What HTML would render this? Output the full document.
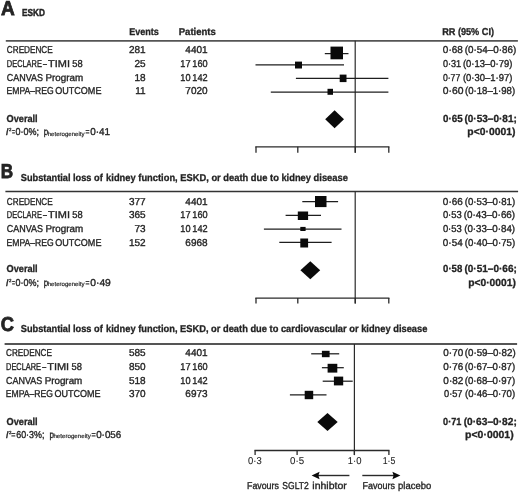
<!DOCTYPE html>
<html><head><meta charset="utf-8"><title>Forest plot</title>
<style>
html,body{margin:0;padding:0;background:#fff;width:520px;height:494px;overflow:hidden}
svg{display:block}
text{text-rendering:geometricPrecision;font-family:"Liberation Sans",Arial,sans-serif;fill:#242424;stroke:#242424;stroke-width:0.35px}
text[font-weight=bold]{stroke-width:0.3px}
text.big{stroke-width:0.8px}
text.hb{stroke-width:0.45px}
text.sub{stroke-width:0.18px}
text.sub2{stroke-width:0.3px}
text.lt{stroke-width:0.1px}
</style></head><body>
<svg width="520" height="494" viewBox="0 0 520 494">
<rect width="520" height="494" fill="#fff"/>
<text x="22.0" y="15.6" font-size="10.2" font-weight="bold" textLength="22.99" lengthAdjust="spacingAndGlyphs" class="hb">ESKD</text>
<text x="129.15" y="34.7" font-size="10" font-weight="bold" textLength="29.66" lengthAdjust="spacingAndGlyphs">Events</text>
<text x="178.72" y="34.7" font-size="10" font-weight="bold" textLength="37.11" lengthAdjust="spacingAndGlyphs">Patients</text>
<text x="442.15" y="34.7" font-size="10" font-weight="bold" textLength="51.86" lengthAdjust="spacingAndGlyphs">RR (95% CI)</text>
<text x="0.9" y="15.0" font-size="20.2" font-weight="bold" textLength="13.8" lengthAdjust="spacingAndGlyphs" class="big">A</text>
<line x1="5.8" y1="40.8" x2="517.9" y2="40.8" stroke="#555" stroke-width="1.8"/>
<text x="6.84" y="53.1" font-size="10" textLength="45.85" lengthAdjust="spacingAndGlyphs">CREDENCE</text>
<text x="145.6" y="53.1" font-size="10" text-anchor="end">281</text>
<text x="207.6" y="53.1" font-size="10" text-anchor="end">4401</text>
<text x="442.86" y="53.1" font-size="10" textLength="19.92" lengthAdjust="spacingAndGlyphs">0·68</text>
<text x="464.74" y="53.1" font-size="10" textLength="51.52" lengthAdjust="spacingAndGlyphs">(0·54–0·86)</text>
<text x="6.84" y="67.0" font-size="10" textLength="35.02" lengthAdjust="spacingAndGlyphs">DECLARE</text>
<text x="43.05" y="67.0" font-size="10" textLength="3.9" lengthAdjust="spacingAndGlyphs">–</text>
<text x="48.01" y="67.0" font-size="10" textLength="21.95" lengthAdjust="spacingAndGlyphs">TIMI</text>
<text x="72.28" y="67.0" font-size="10" textLength="10.38" lengthAdjust="spacingAndGlyphs">58</text>
<text x="145.6" y="67.0" font-size="10" text-anchor="end">25</text>
<text x="180.3" y="67.0" font-size="10" textLength="27.3" lengthAdjust="spacingAndGlyphs">17 160</text>
<text x="442.9" y="67.0" font-size="10" textLength="18.2" lengthAdjust="spacingAndGlyphs">0·31</text>
<text x="462.96" y="67.0" font-size="10" textLength="49.37" lengthAdjust="spacingAndGlyphs">(0·13–0·79)</text>
<text x="6.8" y="80.7" font-size="10" textLength="36.15" lengthAdjust="spacingAndGlyphs">CANVAS</text>
<text x="45.45" y="80.7" font-size="10" textLength="37.64" lengthAdjust="spacingAndGlyphs">Program</text>
<text x="145.6" y="80.7" font-size="10" text-anchor="end">18</text>
<text x="180.3" y="80.7" font-size="10" textLength="27.3" lengthAdjust="spacingAndGlyphs">10 142</text>
<text x="442.91" y="80.7" font-size="10" textLength="17.27" lengthAdjust="spacingAndGlyphs">0·77</text>
<text x="462.96" y="80.7" font-size="10" textLength="49.37" lengthAdjust="spacingAndGlyphs">(0·30–1·97)</text>
<text x="6.54" y="94.4" font-size="10" textLength="47.14" lengthAdjust="spacingAndGlyphs">EMPA–REG</text>
<text x="55.23" y="94.4" font-size="10" textLength="46.2" lengthAdjust="spacingAndGlyphs">OUTCOME</text>
<text x="145.6" y="94.4" font-size="10" text-anchor="end">11</text>
<text x="207.6" y="94.4" font-size="10" text-anchor="end">7020</text>
<text x="442.85" y="94.4" font-size="10" textLength="20.7" lengthAdjust="spacingAndGlyphs">0·60</text>
<text x="465.06" y="94.4" font-size="10" textLength="50.09" lengthAdjust="spacingAndGlyphs">(0·18–1·98)</text>
<text x="6.57" y="121.6" font-size="10" font-weight="bold" textLength="31.12" lengthAdjust="spacingAndGlyphs">Overall</text>
<text x="5.7" y="135.3" font-size="10" font-style="italic">I</text>
<text x="8.9" y="131.4" font-size="4.4" class="sub2">2</text>
<text x="11.9" y="135.3" font-size="10" textLength="3.0" lengthAdjust="spacingAndGlyphs">=</text>
<text x="15.6" y="135.3" font-size="10" textLength="23.46" lengthAdjust="spacingAndGlyphs">0·0%;</text>
<text x="43.74" y="135.3" font-size="10" textLength="4.44" lengthAdjust="spacingAndGlyphs">p</text>
<text x="47.73" y="135.6" font-size="6.0" textLength="36.83" lengthAdjust="spacingAndGlyphs" class="sub">heterogeneity</text>
<text x="85.42" y="135.3" font-size="10" textLength="3.96" lengthAdjust="spacingAndGlyphs">=</text>
<text x="90.26" y="135.3" font-size="10" textLength="19.87" lengthAdjust="spacingAndGlyphs">0·41</text>
<text x="443.07" y="121.6" font-size="10.3" font-weight="bold" textLength="19.65" lengthAdjust="spacingAndGlyphs">0·65</text>
<text x="464.46" y="121.6" font-size="10.3" font-weight="bold" textLength="52.34" lengthAdjust="spacingAndGlyphs">(0·53–0·81;</text>
<text x="467.38" y="135.3" font-size="10.3" font-weight="bold" textLength="48.18" lengthAdjust="spacingAndGlyphs">p&lt;0·0001)</text>
<line x1="355.2" y1="40.8" x2="355.2" y2="152.8" stroke="#2a2a2a" stroke-width="1.2"/>
<line x1="255.3" y1="146.8" x2="389.40000000000003" y2="146.8" stroke="#2a2a2a" stroke-width="1.3"/>
<line x1="256" y1="146.8" x2="256" y2="152.8" stroke="#2a2a2a" stroke-width="1.3"/>
<line x1="297.8" y1="146.8" x2="297.8" y2="152.8" stroke="#2a2a2a" stroke-width="1.3"/>
<line x1="355.3" y1="146.8" x2="355.3" y2="152.8" stroke="#2a2a2a" stroke-width="1.3"/>
<line x1="388.8" y1="146.8" x2="388.8" y2="152.8" stroke="#2a2a2a" stroke-width="1.3"/>
<line x1="324.8" y1="53.6" x2="348.5" y2="53.6" stroke="#1e1e1e" stroke-width="1.25"/>
<rect x="330.5" y="46.6" width="12.5" height="12.7" fill="#0a0a0a"/>
<line x1="255.5" y1="64.8" x2="344" y2="64.8" stroke="#1e1e1e" stroke-width="1.25"/>
<rect x="295" y="61.6" width="7" height="6.9" fill="#0a0a0a"/>
<line x1="295.9" y1="78.3" x2="388.4" y2="78.3" stroke="#1e1e1e" stroke-width="1.25"/>
<rect x="339.7" y="74.6" width="6.8" height="7.5" fill="#0a0a0a"/>
<line x1="270.8" y1="92" x2="388.4" y2="92" stroke="#1e1e1e" stroke-width="1.25"/>
<rect x="327.5" y="88.8" width="5.5" height="6.0" fill="#0a0a0a"/>
<polygon points="325.20000000000005,119.2 334.6,110.2 344.0,119.2 334.6,128.2" fill="#0a0a0a"/>
<text x="0.8" y="178.4" font-size="20.2" font-weight="bold" textLength="12.4" lengthAdjust="spacingAndGlyphs" class="big">B</text>
<text x="20.79" y="180.7" font-size="10" font-weight="bold" textLength="81.94" lengthAdjust="spacingAndGlyphs">Substantial loss of</text>
<text x="106.11" y="180.7" font-size="10" font-weight="bold" textLength="241.76" lengthAdjust="spacingAndGlyphs">kidney function, ESKD, or death due to kidney disease</text>
<line x1="5.4" y1="191.5" x2="518.1" y2="191.5" stroke="#333" stroke-width="1.4"/>
<text x="6.84" y="204.7" font-size="10" textLength="45.85" lengthAdjust="spacingAndGlyphs">CREDENCE</text>
<text x="145.6" y="204.7" font-size="10" text-anchor="end">377</text>
<text x="207.6" y="204.7" font-size="10" text-anchor="end">4401</text>
<text x="442.86" y="204.7" font-size="10" textLength="19.92" lengthAdjust="spacingAndGlyphs">0·66</text>
<text x="464.75" y="204.7" font-size="10" textLength="50.4" lengthAdjust="spacingAndGlyphs">(0·53–0·81)</text>
<text x="6.84" y="218.4" font-size="10" textLength="35.02" lengthAdjust="spacingAndGlyphs">DECLARE</text>
<text x="43.05" y="218.4" font-size="10" textLength="3.9" lengthAdjust="spacingAndGlyphs">–</text>
<text x="48.01" y="218.4" font-size="10" textLength="21.95" lengthAdjust="spacingAndGlyphs">TIMI</text>
<text x="72.28" y="218.4" font-size="10" textLength="10.38" lengthAdjust="spacingAndGlyphs">58</text>
<text x="145.6" y="218.4" font-size="10" text-anchor="end">365</text>
<text x="180.3" y="218.4" font-size="10" textLength="27.3" lengthAdjust="spacingAndGlyphs">17 160</text>
<text x="442.88" y="218.4" font-size="10" textLength="18.88" lengthAdjust="spacingAndGlyphs">0·53</text>
<text x="463.64" y="218.4" font-size="10" textLength="51.52" lengthAdjust="spacingAndGlyphs">(0·43–0·66)</text>
<text x="6.8" y="232.1" font-size="10" textLength="36.15" lengthAdjust="spacingAndGlyphs">CANVAS</text>
<text x="45.45" y="232.1" font-size="10" textLength="37.64" lengthAdjust="spacingAndGlyphs">Program</text>
<text x="145.6" y="232.1" font-size="10" text-anchor="end">73</text>
<text x="180.3" y="232.1" font-size="10" textLength="27.3" lengthAdjust="spacingAndGlyphs">10 142</text>
<text x="442.88" y="232.1" font-size="10" textLength="18.88" lengthAdjust="spacingAndGlyphs">0·53</text>
<text x="464.14" y="232.1" font-size="10" textLength="51.01" lengthAdjust="spacingAndGlyphs">(0·33–0·84)</text>
<text x="6.54" y="245.8" font-size="10" textLength="47.14" lengthAdjust="spacingAndGlyphs">EMPA–REG</text>
<text x="55.23" y="245.8" font-size="10" textLength="46.2" lengthAdjust="spacingAndGlyphs">OUTCOME</text>
<text x="145.6" y="245.8" font-size="10" text-anchor="end">152</text>
<text x="207.6" y="245.8" font-size="10" text-anchor="end">6968</text>
<text x="442.86" y="245.8" font-size="10" textLength="19.78" lengthAdjust="spacingAndGlyphs">0·54</text>
<text x="464.75" y="245.8" font-size="10" textLength="50.4" lengthAdjust="spacingAndGlyphs">(0·40–0·75)</text>
<text x="6.57" y="272.3" font-size="10" font-weight="bold" textLength="31.12" lengthAdjust="spacingAndGlyphs">Overall</text>
<text x="5.7" y="285.7" font-size="10" font-style="italic">I</text>
<text x="8.9" y="281.8" font-size="4.4" class="sub2">2</text>
<text x="11.9" y="285.7" font-size="10" textLength="3.0" lengthAdjust="spacingAndGlyphs">=</text>
<text x="15.6" y="285.7" font-size="10" textLength="23.46" lengthAdjust="spacingAndGlyphs">0·0%;</text>
<text x="43.74" y="285.7" font-size="10" textLength="4.44" lengthAdjust="spacingAndGlyphs">p</text>
<text x="47.73" y="286.0" font-size="6.0" textLength="36.83" lengthAdjust="spacingAndGlyphs" class="sub">heterogeneity</text>
<text x="85.42" y="285.7" font-size="10" textLength="3.96" lengthAdjust="spacingAndGlyphs">=</text>
<text x="90.25" y="285.7" font-size="10" textLength="20.59" lengthAdjust="spacingAndGlyphs">0·49</text>
<text x="443.08" y="272.3" font-size="10.3" font-weight="bold" textLength="19.17" lengthAdjust="spacingAndGlyphs">0·58</text>
<text x="464.46" y="272.3" font-size="10.3" font-weight="bold" textLength="52.34" lengthAdjust="spacingAndGlyphs">(0·51–0·66;</text>
<text x="468.18" y="285.8" font-size="10.3" font-weight="bold" textLength="47.67" lengthAdjust="spacingAndGlyphs">p&lt;0·0001)</text>
<line x1="355.2" y1="191.5" x2="355.2" y2="303.6" stroke="#2a2a2a" stroke-width="1.2"/>
<line x1="255.3" y1="298.1" x2="389.40000000000003" y2="298.1" stroke="#2a2a2a" stroke-width="1.3"/>
<line x1="256" y1="298.1" x2="256" y2="303.6" stroke="#2a2a2a" stroke-width="1.3"/>
<line x1="297.8" y1="298.1" x2="297.8" y2="303.6" stroke="#2a2a2a" stroke-width="1.3"/>
<line x1="355.3" y1="298.1" x2="355.3" y2="303.6" stroke="#2a2a2a" stroke-width="1.3"/>
<line x1="388.8" y1="298.1" x2="388.8" y2="303.6" stroke="#2a2a2a" stroke-width="1.3"/>
<line x1="302.3" y1="201.5" x2="338.1" y2="201.5" stroke="#1e1e1e" stroke-width="1.25"/>
<rect x="315" y="196" width="11.5" height="11.1" fill="#0a0a0a"/>
<line x1="285.6" y1="215.4" x2="321" y2="215.4" stroke="#1e1e1e" stroke-width="1.25"/>
<rect x="297.8" y="211.5" width="10.3" height="8.5" fill="#0a0a0a"/>
<line x1="263.9" y1="229" x2="341.5" y2="229" stroke="#1e1e1e" stroke-width="1.25"/>
<rect x="300.3" y="226.9" width="5.3" height="4.1" fill="#0a0a0a"/>
<line x1="279.3" y1="242.3" x2="331.6" y2="242.3" stroke="#1e1e1e" stroke-width="1.25"/>
<rect x="300.3" y="238.5" width="7.8" height="9.0" fill="#0a0a0a"/>
<polygon points="300.40000000000003,270.2 310.3,261.2 320.2,270.2 310.3,279.2" fill="#0a0a0a"/>
<text x="0.7" y="331.3" font-size="20.2" font-weight="bold" textLength="13.3" lengthAdjust="spacingAndGlyphs" class="big">C</text>
<text x="20.79" y="332.3" font-size="10" font-weight="bold" textLength="81.94" lengthAdjust="spacingAndGlyphs">Substantial loss of</text>
<text x="106.11" y="332.3" font-size="10" font-weight="bold" textLength="321.26" lengthAdjust="spacingAndGlyphs">kidney function, ESKD, or death due to cardiovascular or kidney disease</text>
<line x1="4.6" y1="343.95" x2="517.1" y2="343.95" stroke="#555" stroke-width="1.9"/>
<text x="6.04" y="356.2" font-size="10" textLength="45.85" lengthAdjust="spacingAndGlyphs">CREDENCE</text>
<text x="145.6" y="356.2" font-size="10" text-anchor="end">585</text>
<text x="207.6" y="356.2" font-size="10" text-anchor="end">4401</text>
<text x="443.36" y="356.2" font-size="10" textLength="19.77" lengthAdjust="spacingAndGlyphs">0·70</text>
<text x="464.75" y="356.2" font-size="10" textLength="50.91" lengthAdjust="spacingAndGlyphs">(0·59–0·82)</text>
<text x="6.04" y="369.8" font-size="10" textLength="35.02" lengthAdjust="spacingAndGlyphs">DECLARE</text>
<text x="42.25" y="369.8" font-size="10" textLength="3.9" lengthAdjust="spacingAndGlyphs">–</text>
<text x="47.21" y="369.8" font-size="10" textLength="21.95" lengthAdjust="spacingAndGlyphs">TIMI</text>
<text x="71.48" y="369.8" font-size="10" textLength="10.38" lengthAdjust="spacingAndGlyphs">58</text>
<text x="145.6" y="369.8" font-size="10" text-anchor="end">850</text>
<text x="180.3" y="369.8" font-size="10" textLength="27.3" lengthAdjust="spacingAndGlyphs">17 160</text>
<text x="443.36" y="369.8" font-size="10" textLength="19.82" lengthAdjust="spacingAndGlyphs">0·76</text>
<text x="464.75" y="369.8" font-size="10" textLength="50.4" lengthAdjust="spacingAndGlyphs">(0·67–0·87)</text>
<text x="6.0" y="383.5" font-size="10" textLength="36.15" lengthAdjust="spacingAndGlyphs">CANVAS</text>
<text x="44.65" y="383.5" font-size="10" textLength="37.64" lengthAdjust="spacingAndGlyphs">Program</text>
<text x="145.6" y="383.5" font-size="10" text-anchor="end">518</text>
<text x="180.3" y="383.5" font-size="10" textLength="27.3" lengthAdjust="spacingAndGlyphs">10 142</text>
<text x="443.36" y="383.5" font-size="10" textLength="19.89" lengthAdjust="spacingAndGlyphs">0·82</text>
<text x="464.75" y="383.5" font-size="10" textLength="50.4" lengthAdjust="spacingAndGlyphs">(0·68–0·97)</text>
<text x="5.74" y="397.1" font-size="10" textLength="47.14" lengthAdjust="spacingAndGlyphs">EMPA–REG</text>
<text x="54.43" y="397.1" font-size="10" textLength="46.2" lengthAdjust="spacingAndGlyphs">OUTCOME</text>
<text x="145.6" y="397.1" font-size="10" text-anchor="end">370</text>
<text x="207.6" y="397.1" font-size="10" text-anchor="end">6973</text>
<text x="443.99" y="397.1" font-size="10" textLength="18.53" lengthAdjust="spacingAndGlyphs">0·57</text>
<text x="465.06" y="397.1" font-size="10" textLength="50.09" lengthAdjust="spacingAndGlyphs">(0·46–0·70)</text>
<text x="6.57" y="424.5" font-size="10" font-weight="bold" textLength="31.12" lengthAdjust="spacingAndGlyphs">Overall</text>
<text x="5.7" y="437.5" font-size="10" font-style="italic">I</text>
<text x="8.9" y="433.6" font-size="4.4" class="sub2">2</text>
<text x="11.21" y="437.5" font-size="10" textLength="4.2" lengthAdjust="spacingAndGlyphs">=</text>
<text x="16.2" y="437.5" font-size="10" textLength="28.24" lengthAdjust="spacingAndGlyphs">60·3%;</text>
<text x="49.44" y="437.5" font-size="10" textLength="4.44" lengthAdjust="spacingAndGlyphs">p</text>
<text x="53.42" y="437.8" font-size="6.0" textLength="37.44" lengthAdjust="spacingAndGlyphs" class="sub">heterogeneity</text>
<text x="91.61" y="437.5" font-size="10" textLength="4.2" lengthAdjust="spacingAndGlyphs">=</text>
<text x="96.17" y="437.5" font-size="10" textLength="25.11" lengthAdjust="spacingAndGlyphs">0·056</text>
<text x="443.09" y="424.5" font-size="10.3" font-weight="bold" textLength="18.31" lengthAdjust="spacingAndGlyphs">0·71</text>
<text x="463.65" y="424.5" font-size="10.3" font-weight="bold" textLength="53.17" lengthAdjust="spacingAndGlyphs">(0·63–0·82;</text>
<text x="465.07" y="437.8" font-size="10.3" font-weight="bold" textLength="48.59" lengthAdjust="spacingAndGlyphs">p&lt;0·0001)</text>
<line x1="354.4" y1="343.95" x2="354.4" y2="455.1" stroke="#2a2a2a" stroke-width="1.2"/>
<line x1="254.4" y1="450.5" x2="389.5" y2="450.5" stroke="#2a2a2a" stroke-width="1.3"/>
<line x1="255.1" y1="450.5" x2="255.1" y2="455.1" stroke="#2a2a2a" stroke-width="1.3"/>
<line x1="297.1" y1="450.5" x2="297.1" y2="455.1" stroke="#2a2a2a" stroke-width="1.3"/>
<line x1="354.4" y1="450.5" x2="354.4" y2="455.1" stroke="#2a2a2a" stroke-width="1.3"/>
<line x1="388.9" y1="450.5" x2="388.9" y2="455.1" stroke="#2a2a2a" stroke-width="1.3"/>
<line x1="311.2" y1="353.8" x2="339.2" y2="353.8" stroke="#1e1e1e" stroke-width="1.25"/>
<rect x="321.9" y="350.8" width="7.7" height="6.4" fill="#0a0a0a"/>
<line x1="321.9" y1="367.7" x2="343.8" y2="367.7" stroke="#1e1e1e" stroke-width="1.25"/>
<rect x="327.6" y="363.8" width="9.7" height="8.8" fill="#0a0a0a"/>
<line x1="322.7" y1="381.2" x2="352.7" y2="381.2" stroke="#1e1e1e" stroke-width="1.25"/>
<rect x="333.9" y="376.6" width="9.3" height="8.8" fill="#0a0a0a"/>
<line x1="289.9" y1="394.9" x2="326.5" y2="394.9" stroke="#1e1e1e" stroke-width="1.25"/>
<rect x="304.7" y="390.8" width="8.5" height="8.4" fill="#0a0a0a"/>
<polygon points="317.3,421.9 327.5,412.9 337.7,421.9 327.5,430.9" fill="#0a0a0a"/>
<text x="247.98" y="464" font-size="10" textLength="13.68" lengthAdjust="spacingAndGlyphs" class="lt">0·3</text>
<text x="289.97" y="464" font-size="10" textLength="14.08" lengthAdjust="spacingAndGlyphs" class="lt">0·5</text>
<text x="347.83" y="464" font-size="10" textLength="13.68" lengthAdjust="spacingAndGlyphs" class="lt">1·0</text>
<text x="382.68" y="464" font-size="10" textLength="12.73" lengthAdjust="spacingAndGlyphs" class="lt">1·5</text>
<line x1="318" y1="475.5" x2="349.4" y2="475.5" stroke="#2a2a2a" stroke-width="1.4"/>
<polygon points="311.6,475.5 319.6,471.8 318.4,475.5 319.6,479.2" fill="#0a0a0a"/>
<line x1="362.3" y1="475.5" x2="394" y2="475.5" stroke="#2a2a2a" stroke-width="1.4"/>
<polygon points="400.4,475.5 392.4,471.8 393.6,475.5 392.4,479.2" fill="#0a0a0a"/>
<text x="247.03" y="489.4" font-size="10" textLength="31.84" lengthAdjust="spacingAndGlyphs">Favours</text>
<text x="282.37" y="489.4" font-size="10" textLength="26.31" lengthAdjust="spacingAndGlyphs">SGLT2</text>
<text x="312.36" y="489.4" font-size="10" textLength="34.46" lengthAdjust="spacingAndGlyphs">inhibtor</text>
<text x="362.52" y="489.4" font-size="10" textLength="32.36" lengthAdjust="spacingAndGlyphs">Favours</text>
<text x="398.05" y="489.4" font-size="10" textLength="33.09" lengthAdjust="spacingAndGlyphs">placebo</text>
</svg>
</body></html>
